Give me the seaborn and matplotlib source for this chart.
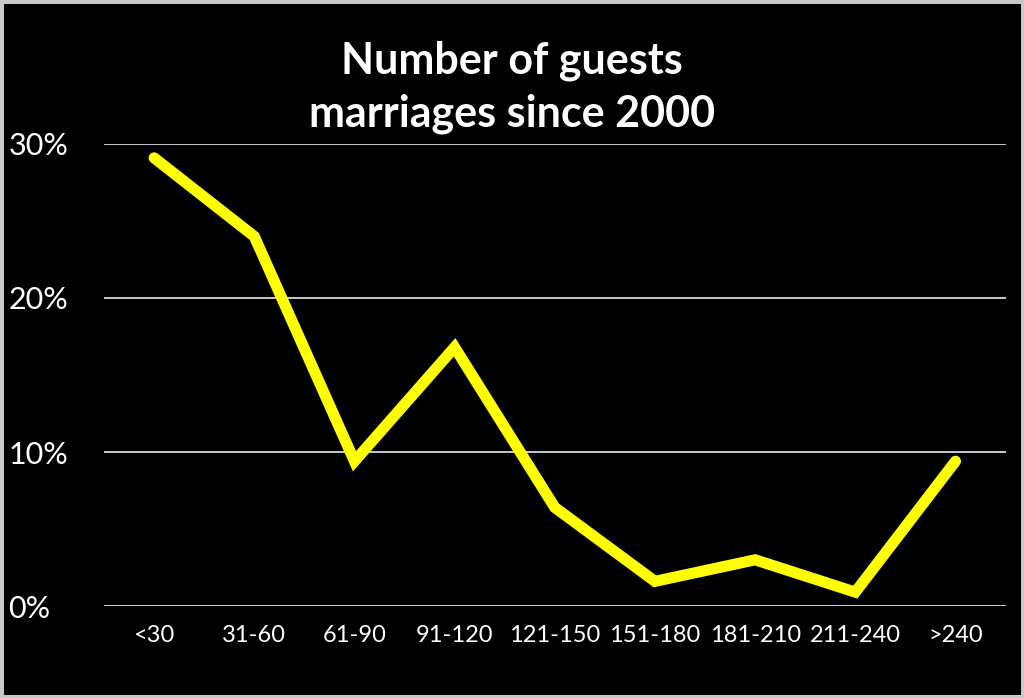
import seaborn as sns
import matplotlib.pyplot as plt
import pandas as pd
from matplotlib.ticker import PercentFormatter

categories = ['<30', '31-60', '61-90', '91-120', '121-150', '151-180', '181-210', '211-240', '>240']
shares = [0.291, 0.240, 0.094, 0.168, 0.064, 0.016, 0.030, 0.009, 0.094]
y_ticks = [0.0, 0.1, 0.2, 0.3]

df = pd.DataFrame({'guests': categories, 'share': shares})

sns.set_style('dark')
plt.rcParams['font.family'] = ['Lato', 'DejaVu Sans']

fig = plt.figure(figsize=(10.24, 6.98), dpi=100, facecolor='black',
                 edgecolor='#c8c8c8', linewidth=5)
ax = fig.add_axes([0.1016, 0.1318, 0.8804, 0.6619])
ax.set_facecolor('black')

sns.lineplot(data=df, x='guests', y='share', color='#ffff00', linewidth=8,
             solid_capstyle='round', solid_joinstyle='miter', sort=False, ax=ax)

ax.set_xlim(-0.5, len(categories) - 0.5)
ax.set_ylim(0, 0.3)
ax.set_yticks(y_ticks)
ax.yaxis.set_major_formatter(PercentFormatter(1.0, decimals=0))
ax.grid(axis='y', color='#d9d9d9', linewidth=1.3)
ax.grid(axis='x', visible=False)
ax.set_axisbelow(True)
for s in ax.spines.values():
    s.set_visible(False)
ax.tick_params(axis='y', colors='white', labelsize=22, length=0, pad=69)
ax.tick_params(axis='x', colors='white', labelsize=17, length=0, pad=14)
for lab in ax.get_yticklabels():
    lab.set_horizontalalignment('left')
ax.set_xlabel('')
ax.set_ylabel('')

fig.text(0.5, 0.913, 'Number of guests', color='white', fontsize=31,
         fontweight='bold', ha='center', va='center')
fig.text(0.5, 0.837, 'marriages since 2000', color='white', fontsize=31,
         fontweight='bold', ha='center', va='center')

fig.savefig('out.png', dpi=100, facecolor='black', edgecolor='#c8c8c8')
